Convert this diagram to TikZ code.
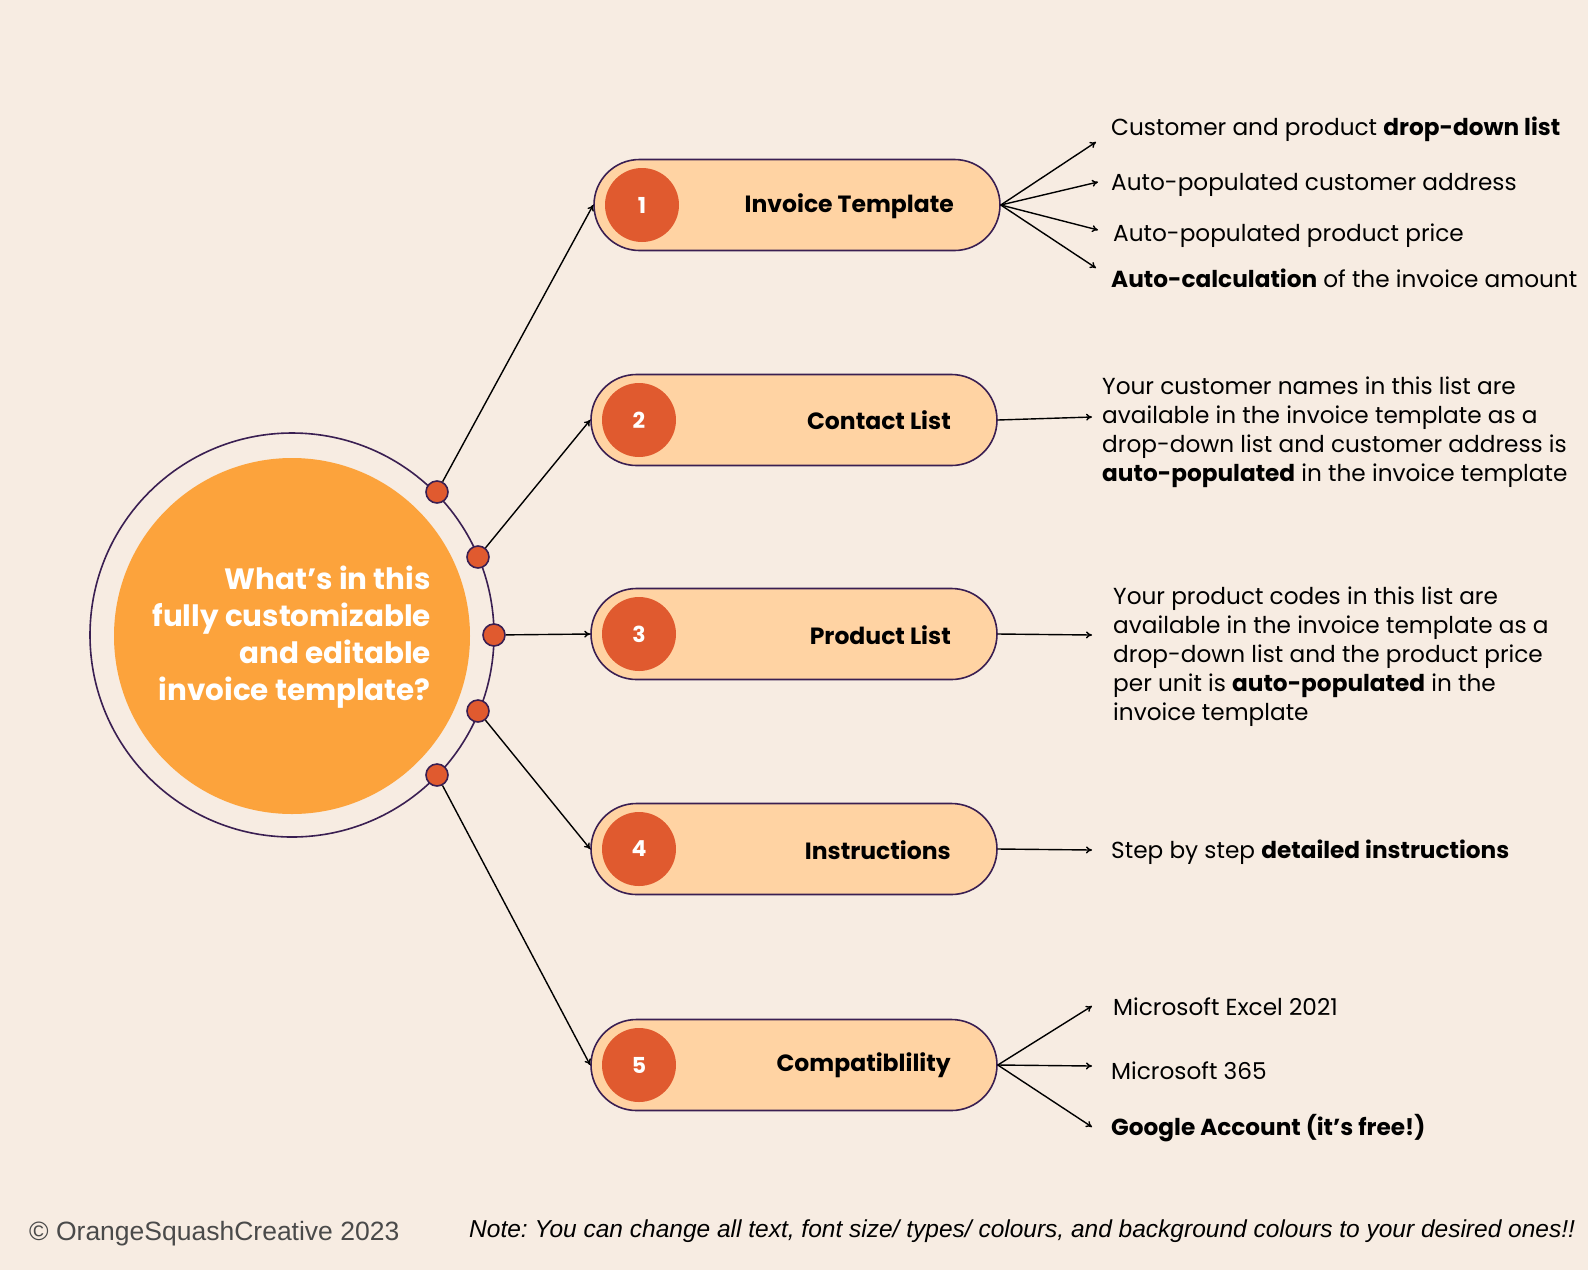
\documentclass[tikz,border=0pt]{standalone}
\usepackage{fontspec}
\setmainfont{Poppins}
\newfontfamily\footfont{Liberation Sans}
\usetikzlibrary{arrows.meta}
\frenchspacing
\definecolor{bgc}{HTML}{F7ECE2}
\definecolor{pillc}{HTML}{FFD3A3}
\definecolor{edgec}{HTML}{3A1F52}
\definecolor{numc}{HTML}{E05A2F}
\definecolor{bigc}{HTML}{FCA33C}
\definecolor{footc}{HTML}{4A4A4A}
\tikzset{
  pill/.style={draw=edgec, line width=1.6pt, fill=pillc, rounded corners=45.5pt, minimum width=406pt, minimum height=91pt, inner sep=0pt},
  numdot/.style={circle, fill=numc, minimum size=74pt, inner sep=0pt, text=white, font=\fontsize{22}{26}\selectfont\bfseries},
  plabel/.style={anchor=east, inner sep=0pt, font=\fontsize{23.5}{28}\selectfont\bfseries},
  ringdot/.style={circle, draw=edgec, line width=1.6pt, fill=numc, minimum size=22pt, inner sep=0pt},
  conn/.style={line width=1.4pt, -{To[length=6pt,width=7pt]}},
  desc/.style={anchor=west, inner sep=0pt, align=left, font=\fontsize{23.2}{29}\selectfont},
}
\begin{document}
\begin{tikzpicture}[x=1pt,y=-1pt]
\fill[bgc] (0,0) rectangle (1588,1270);
\useasboundingbox (0,0) rectangle (1588,1270);
% big circle
\node[circle, draw=edgec, line width=1.6pt, minimum size=404pt, inner sep=0pt] (ring) at (292,635) {};
\node[circle, fill=bigc, minimum size=356pt, inner sep=0pt] (core) at (292,636) {};
\node[anchor=east, align=right, text=white, inner sep=0pt, font=\fontsize{29.4}{37}\selectfont\bfseries] (title) at (431,637) {What’s in this\\fully customizable\\and editable\\invoice template?};
% ring dots
\node[ringdot] (d1) at (437,492) {};
\node[ringdot] (d2) at (478,557) {};
\node[ringdot] (d3) at (494,635) {};
\node[ringdot] (d4) at (478,711) {};
\node[ringdot] (d5) at (437,775) {};
% pills
\node[pill] (p1) at (797,205) {};
\node[pill] (p2) at (794,420) {};
\node[pill] (p3) at (794,634) {};
\node[pill] (p4) at (794,849) {};
\node[pill] (p5) at (794,1065) {};
\node[numdot] (n1) at (642,205) {1};
\node[numdot] (n2) at (639,420) {2};
\node[numdot] (n3) at (639,634) {3};
\node[numdot] (n4) at (639,849) {4};
\node[numdot] (n5) at (639,1065) {5};
\node[plabel] (l1) at (954,206) {Invoice Template};
\node[plabel] (l2) at (951,420) {Contact List};
\node[plabel] (l3) at (951,635) {Product List};
\node[plabel] (l4) at (951,850) {Instructions};
\node[plabel] (l5) at (951,1065) {Compatiblility};
% left connectors
\draw[conn] (d1) -- (p1.west);
\draw[conn] (d2) -- (p2.west);
\draw[conn] (d3) -- (p3.west);
\draw[conn] (d4) -- (p4.west);
\draw[conn] (d5) -- (p5.west);
% right side coordinates
\coordinate (a11) at (1096,142);
\coordinate (a12) at (1098,182);
\coordinate (a13) at (1098,230);
\coordinate (a14) at (1096,268);
\coordinate (a2) at (1092,417);
\coordinate (a3) at (1092,635);
\coordinate (a4) at (1092,850);
\coordinate (a51) at (1092,1006);
\coordinate (a52) at (1092,1066);
\coordinate (a53) at (1092,1127);
\foreach \t in {a11,a12,a13,a14} \draw[conn] (p1.east) -- (\t);
\draw[conn] (p2.east) -- (a2);
\draw[conn] (p3.east) -- (a3);
\draw[conn] (p4.east) -- (a4);
\foreach \t in {a51,a52,a53} \draw[conn] (p5.east) -- (\t);
% descriptions
\node[desc] (t11) at (1111,129) {Customer and product \textbf{drop-down list}};
\node[desc] (t12) at (1111,185) {Auto-populated customer address};
\node[desc] (t13) at (1113,236) {Auto-populated product price};
\node[desc] (t14) at (1111,278) {\textbf{Auto-calculation} of the invoice amount};
\node[desc] (t2) at (1102,432) {Your customer names in this list are\\available in the invoice template as a\\drop-down list and customer address is\\\textbf{auto-populated} in the invoice template};
\node[desc] (t3) at (1113,657) {Your product codes in this list are\\available in the invoice template as a\\drop-down list and the product price\\per unit is \textbf{auto-populated} in the\\invoice template};
\node[desc] (t4) at (1111,852) {Step by step \textbf{detailed instructions}};
\node[desc] (t51) at (1113,1007) {Microsoft Excel 2021};
\node[desc] (t52) at (1111,1071) {Microsoft 365};
\node[desc] (t53) at (1111,1128) {\textbf{Google Account (it’s free!)}};
% footer
\node[anchor=west, inner sep=0pt, text=footc, font=\footfont\fontsize{26.5}{30}\selectfont] (copy) at (29,1234) {© OrangeSquashCreative 2023};
\node[anchor=west, inner sep=0pt, font=\footfont\itshape\fontsize{24.5}{28}\selectfont] (note) at (469,1231) {Note: You can change all text, font size/ types/ colours, and background colours to your desired ones!!};
\end{tikzpicture}
\end{document}
